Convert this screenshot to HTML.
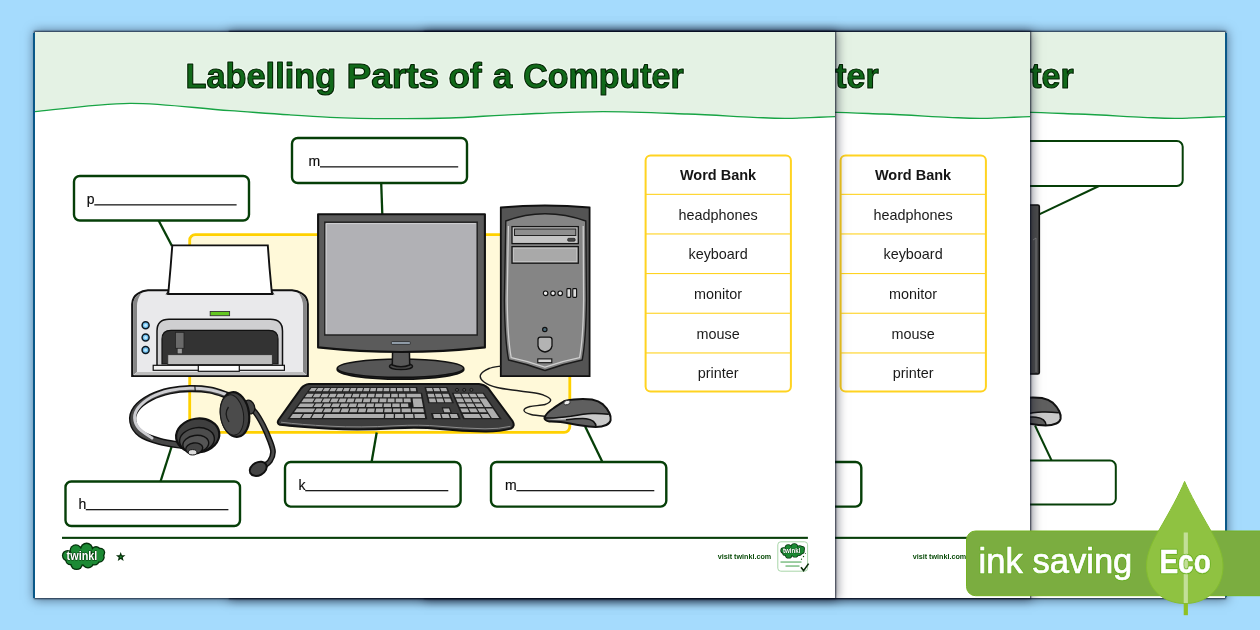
<!DOCTYPE html>
<html><head><meta charset="utf-8"><title>Labelling Parts of a Computer</title><style>
html,body{margin:0;padding:0}
body{width:1260px;height:630px;overflow:hidden;position:relative;background:#a5dbfd;font-family:"Liberation Sans",sans-serif}
.page{position:absolute;top:32px;width:800px;height:566px;background:#fff;box-shadow:0 0 1.6px .8px rgba(0,8,28,.72),0 0 10px 1.5px rgba(0,8,25,.5)}
.strip{position:absolute;background:#0a5888}
.page svg{position:absolute;left:0;top:0;display:block;will-change:transform}
svg text{font-family:"Liberation Sans",sans-serif}
.eco{position:absolute;left:966px;top:531px;width:320px;height:64px;background:#7bad40;border:1px solid #72b11f;border-radius:9px;box-sizing:border-box}
</style></head><body><div class="page" style="left:425px"><svg width="800" height="566" viewBox="35 32 800 566"><path d="M35.0,111.7 C50.8,110.3 97.5,103.5 130.0,103.3 C162.5,103.1 196.7,108.4 230.0,110.7 C263.3,113.0 302.2,116.0 330.0,117.3 C357.8,118.6 377.0,118.6 397.0,118.7 C417.0,118.8 429.5,118.7 450.0,118.0 C470.5,117.3 494.5,115.3 520.0,114.3 C545.5,113.2 575.2,111.8 603.0,111.7 C630.8,111.7 662.0,113.1 687.0,114.0 C712.0,114.9 736.3,116.6 753.0,117.3 C769.7,118.0 773.3,118.4 787.0,118.3 C800.7,118.2 827.0,117.0 835.0,116.7 L835,32 L35,32 Z" fill="#e4f2e4"/><path d="M35.0,111.7 C50.8,110.3 97.5,103.5 130.0,103.3 C162.5,103.1 196.7,108.4 230.0,110.7 C263.3,113.0 302.2,116.0 330.0,117.3 C357.8,118.6 377.0,118.6 397.0,118.7 C417.0,118.8 429.5,118.7 450.0,118.0 C470.5,117.3 494.5,115.3 520.0,114.3 C545.5,113.2 575.2,111.8 603.0,111.7 C630.8,111.7 662.0,113.1 687.0,114.0 C712.0,114.9 736.3,116.6 753.0,117.3 C769.7,118.0 773.3,118.4 787.0,118.3 C800.7,118.2 827.0,117.0 835.0,116.7" fill="none" stroke="#17a444" stroke-width="1.3"/><g font-size="35" font-weight="bold"><text x="185.6" y="87.6" textLength="150.5" lengthAdjust="spacingAndGlyphs" fill="none" stroke="#f2faf2" stroke-width="3.5" stroke-linejoin="round" opacity="0.8">Labelling</text><text x="346.4" y="87.6" textLength="92.8" lengthAdjust="spacingAndGlyphs" fill="none" stroke="#f2faf2" stroke-width="3.5" stroke-linejoin="round" opacity="0.8">Parts</text><text x="448.5" y="87.6" textLength="33.05" lengthAdjust="spacingAndGlyphs" fill="none" stroke="#f2faf2" stroke-width="3.5" stroke-linejoin="round" opacity="0.8">of</text><text x="492.7" y="87.6" textLength="19.47" lengthAdjust="spacingAndGlyphs" fill="none" stroke="#f2faf2" stroke-width="3.5" stroke-linejoin="round" opacity="0.8">a</text><text x="523.3" y="87.6" textLength="160.3" lengthAdjust="spacingAndGlyphs" fill="none" stroke="#f2faf2" stroke-width="3.5" stroke-linejoin="round" opacity="0.8">Computer</text><text x="185.6" y="87.6" textLength="150.5" lengthAdjust="spacingAndGlyphs" fill="#11691a" stroke="#022402" stroke-width="1.15" stroke-linejoin="round">Labelling</text><text x="346.4" y="87.6" textLength="92.8" lengthAdjust="spacingAndGlyphs" fill="#11691a" stroke="#022402" stroke-width="1.15" stroke-linejoin="round">Parts</text><text x="448.5" y="87.6" textLength="33.05" lengthAdjust="spacingAndGlyphs" fill="#11691a" stroke="#022402" stroke-width="1.15" stroke-linejoin="round">of</text><text x="492.7" y="87.6" textLength="19.47" lengthAdjust="spacingAndGlyphs" fill="#11691a" stroke="#022402" stroke-width="1.15" stroke-linejoin="round">a</text><text x="523.3" y="87.6" textLength="160.3" lengthAdjust="spacingAndGlyphs" fill="#11691a" stroke="#022402" stroke-width="1.15" stroke-linejoin="round">Computer</text></g><line x1="709" y1="186" x2="649.2" y2="214.3" stroke="#063f08" stroke-width="2"/><rect x="617.7" y="141" width="175.0" height="45" rx="5.8" fill="#fff" stroke="#063f08" stroke-width="2"/><line x1="645" y1="425.5" x2="661.5999999999999" y2="460.5" stroke="#063f08" stroke-width="2"/><rect x="550.8" y="460.6" width="175.0" height="44.0" rx="5.8" fill="#fff" stroke="#063f08" stroke-width="2"/><rect x="630" y="205" width="19.3" height="169" rx="1.5" fill="#4f4f4f" stroke="#111" stroke-width="1.6"/><path d="M643,240 L646,238 L646,372" fill="none" stroke="#8a8a8a" stroke-width="0.8"/><g transform="translate(60,-1.5)"><path d="M544.4,418 C546,413.5 549,411 553,408.5 C557,405.8 560,403.5 564,401.3 C568,399.8 573,399.3 578,399.2 C583,399 588,399.1 592,399.6 C597,400.6 600,402 603,404.4 C606,407 608,409.8 609.4,413 C610.6,415.5 611,418 610.6,420.2 C610,422.5 608.5,424 606.3,425 C603,426.5 599.5,427 595.7,427 C591,426.8 586,426.3 581.4,425.6 C576,424.8 571.5,423.8 567,422.9 C561,421.9 555,421.7 549.3,421.4 C546.5,421 544.6,420 544.4,418 Z" fill="#5f5f5f"/><path d="M546.5,418.8 C555,418.8 563,417.6 570.7,416.5 C578,415.3 585,414 592,413.6 C598,413.3 603,413.8 608.5,414.4 C610.3,417 611,419.5 610.3,421 C609.5,423 608,424.3 606,425 C603,426.3 599.5,426.8 596,426.8 C596,424.8 595,422.8 593.4,421.3 C591.5,419.8 589,418.9 586,418.6 C580,418.2 573,418.9 566,419.5 C559,420 552,420.1 546.5,418.8 Z" fill="#c9c9c9"/><path d="M545,418 C555,418.4 563,417.4 570.7,416.3 C578,415 585,413.8 592,413.5 C598,413.2 603,413.6 608.8,414.3" fill="none" stroke="#111" stroke-width="1.5"/><path d="M566,419.8 C573,419 580,418.3 586,418.7 C589,419 591.5,419.9 593.4,421.4 C595,422.9 596,424.8 596,426.6" fill="none" stroke="#111" stroke-width="1.5"/><path d="M544.4,418 C546,413.5 549,411 553,408.5 C557,405.8 560,403.5 564,401.3 C568,399.8 573,399.3 578,399.2 C583,399 588,399.1 592,399.6 C597,400.6 600,402 603,404.4 C606,407 608,409.8 609.4,413 C610.6,415.5 611,418 610.6,420.2 C610,422.5 608.5,424 606.3,425 C603,426.5 599.5,427 595.7,427 C591,426.8 586,426.3 581.4,425.6 C576,424.8 571.5,423.8 567,422.9 C561,421.9 555,421.7 549.3,421.4 C546.5,421 544.6,420 544.4,418 Z" fill="none" stroke="#111" stroke-width="2" stroke-linejoin="round"/><ellipse cx="567" cy="402.6" rx="3.3" ry="2.1" fill="#ececec" stroke="#222" stroke-width="0.8" transform="rotate(-18 567 402.6)"/></g></svg></div><div class="page" style="left:230px"><svg width="800" height="566" viewBox="35 32 800 566"><path d="M35.0,111.7 C50.8,110.3 97.5,103.5 130.0,103.3 C162.5,103.1 196.7,108.4 230.0,110.7 C263.3,113.0 302.2,116.0 330.0,117.3 C357.8,118.6 377.0,118.6 397.0,118.7 C417.0,118.8 429.5,118.7 450.0,118.0 C470.5,117.3 494.5,115.3 520.0,114.3 C545.5,113.2 575.2,111.8 603.0,111.7 C630.8,111.7 662.0,113.1 687.0,114.0 C712.0,114.9 736.3,116.6 753.0,117.3 C769.7,118.0 773.3,118.4 787.0,118.3 C800.7,118.2 827.0,117.0 835.0,116.7 L835,32 L35,32 Z" fill="#e4f2e4"/><path d="M35.0,111.7 C50.8,110.3 97.5,103.5 130.0,103.3 C162.5,103.1 196.7,108.4 230.0,110.7 C263.3,113.0 302.2,116.0 330.0,117.3 C357.8,118.6 377.0,118.6 397.0,118.7 C417.0,118.8 429.5,118.7 450.0,118.0 C470.5,117.3 494.5,115.3 520.0,114.3 C545.5,113.2 575.2,111.8 603.0,111.7 C630.8,111.7 662.0,113.1 687.0,114.0 C712.0,114.9 736.3,116.6 753.0,117.3 C769.7,118.0 773.3,118.4 787.0,118.3 C800.7,118.2 827.0,117.0 835.0,116.7" fill="none" stroke="#17a444" stroke-width="1.3"/><g font-size="35" font-weight="bold"><text x="185.6" y="87.6" textLength="150.5" lengthAdjust="spacingAndGlyphs" fill="none" stroke="#f2faf2" stroke-width="3.5" stroke-linejoin="round" opacity="0.8">Labelling</text><text x="346.4" y="87.6" textLength="92.8" lengthAdjust="spacingAndGlyphs" fill="none" stroke="#f2faf2" stroke-width="3.5" stroke-linejoin="round" opacity="0.8">Parts</text><text x="448.5" y="87.6" textLength="33.05" lengthAdjust="spacingAndGlyphs" fill="none" stroke="#f2faf2" stroke-width="3.5" stroke-linejoin="round" opacity="0.8">of</text><text x="492.7" y="87.6" textLength="19.47" lengthAdjust="spacingAndGlyphs" fill="none" stroke="#f2faf2" stroke-width="3.5" stroke-linejoin="round" opacity="0.8">a</text><text x="523.3" y="87.6" textLength="160.3" lengthAdjust="spacingAndGlyphs" fill="none" stroke="#f2faf2" stroke-width="3.5" stroke-linejoin="round" opacity="0.8">Computer</text><text x="185.6" y="87.6" textLength="150.5" lengthAdjust="spacingAndGlyphs" fill="#11691a" stroke="#022402" stroke-width="1.15" stroke-linejoin="round">Labelling</text><text x="346.4" y="87.6" textLength="92.8" lengthAdjust="spacingAndGlyphs" fill="#11691a" stroke="#022402" stroke-width="1.15" stroke-linejoin="round">Parts</text><text x="448.5" y="87.6" textLength="33.05" lengthAdjust="spacingAndGlyphs" fill="#11691a" stroke="#022402" stroke-width="1.15" stroke-linejoin="round">of</text><text x="492.7" y="87.6" textLength="19.47" lengthAdjust="spacingAndGlyphs" fill="#11691a" stroke="#022402" stroke-width="1.15" stroke-linejoin="round">a</text><text x="523.3" y="87.6" textLength="160.3" lengthAdjust="spacingAndGlyphs" fill="#11691a" stroke="#022402" stroke-width="1.15" stroke-linejoin="round">Computer</text></g><rect x="491" y="462" width="175.29999999999995" height="44.60000000000002" rx="5.8" fill="#fff" stroke="#063f08" stroke-width="2.4"/><rect x="645.6" y="155.6" width="145.3" height="235.9" rx="5" fill="#fff" stroke="#ffd321" stroke-width="2"/><rect x="645.6" y="193.8" width="145.3" height="1.1" fill="#ffd321"/><rect x="645.6" y="233.4" width="145.3" height="1.1" fill="#ffd321"/><rect x="645.6" y="273.0" width="145.3" height="1.1" fill="#ffd321"/><rect x="645.6" y="312.7" width="145.3" height="1.1" fill="#ffd321"/><rect x="645.6" y="352.4" width="145.3" height="1.1" fill="#ffd321"/><text x="718.05" y="179.8" text-anchor="middle" font-size="14.5" font-weight="bold" fill="#151515">Word Bank</text><text x="718.05" y="219.6" text-anchor="middle" font-size="14.4" fill="#1a1a1a">headphones</text><text x="718.05" y="258.7" text-anchor="middle" font-size="14.4" fill="#1a1a1a">keyboard</text><text x="718.05" y="298.5" text-anchor="middle" font-size="14.4" fill="#1a1a1a">monitor</text><text x="718.05" y="338.5" text-anchor="middle" font-size="14.4" fill="#1a1a1a">mouse</text><text x="718.05" y="378.3" text-anchor="middle" font-size="14.4" fill="#1a1a1a">printer</text><rect x="62" y="536.8" width="745.9" height="2.1" fill="#073f09"/><g transform="translate(62.0,542.9) scale(1.0,1.0) translate(-62,-542.9)"><circle cx="67.6" cy="555.6" r="5.7" fill="#04300a"/><circle cx="75.8" cy="550.6" r="6.3" fill="#04300a"/><circle cx="86.6" cy="549.2" r="6.6" fill="#04300a"/><circle cx="96" cy="551.6" r="5.5" fill="#04300a"/><circle cx="100.3" cy="552.6" r="4.9" fill="#04300a"/><circle cx="99.2" cy="557.2" r="5.5" fill="#04300a"/><circle cx="76.6" cy="563.6" r="6.5" fill="#04300a"/><circle cx="88" cy="562.4" r="6.1" fill="#04300a"/><circle cx="70.5" cy="560" r="5.3" fill="#04300a"/><circle cx="94.5" cy="560" r="5.5" fill="#04300a"/><circle cx="83" cy="556.5" r="9.3" fill="#04300a"/><circle cx="67.6" cy="555.6" r="4.4" fill="#1c8a34"/><circle cx="75.8" cy="550.6" r="5" fill="#1c8a34"/><circle cx="86.6" cy="549.2" r="5.3" fill="#1c8a34"/><circle cx="96" cy="551.6" r="4.2" fill="#1c8a34"/><circle cx="100.3" cy="552.6" r="3.6" fill="#1c8a34"/><circle cx="99.2" cy="557.2" r="4.2" fill="#1c8a34"/><circle cx="76.6" cy="563.6" r="5.2" fill="#1c8a34"/><circle cx="88" cy="562.4" r="4.8" fill="#1c8a34"/><circle cx="70.5" cy="560" r="4" fill="#1c8a34"/><circle cx="94.5" cy="560" r="4.2" fill="#1c8a34"/><circle cx="83" cy="556.5" r="8" fill="#1c8a34"/><text x="66.6" y="560.1" font-size="12.4" font-weight="bold" fill="#fff" stroke="#06380c" stroke-width="1.1" paint-order="stroke" stroke-linejoin="round" textLength="30.8" lengthAdjust="spacingAndGlyphs">twinkl</text></g><polygon points="120.70,551.90 121.93,555.20 125.46,555.35 122.70,557.55 123.64,560.95 120.70,559.00 117.76,560.95 118.70,557.55 115.94,555.35 119.47,555.20" fill="#06300a"/><circle cx="120.7" cy="556.9" r="1.1" fill="#1c7a2c"/><text x="771.2" y="559" text-anchor="end" font-size="7.2" font-weight="bold" fill="#0b4d0b">visit twinkl.com</text><rect x="777.8" y="541.8" width="29.8" height="29.4" rx="3" fill="#fff" stroke="#a9d6a9" stroke-width="1"/><g transform="translate(780.4,543.4) scale(0.5671296296296295,0.5555555555555556) translate(-62,-542.9)"><circle cx="67.6" cy="555.6" r="5.7" fill="#04300a"/><circle cx="75.8" cy="550.6" r="6.3" fill="#04300a"/><circle cx="86.6" cy="549.2" r="6.6" fill="#04300a"/><circle cx="96" cy="551.6" r="5.5" fill="#04300a"/><circle cx="100.3" cy="552.6" r="4.9" fill="#04300a"/><circle cx="99.2" cy="557.2" r="5.5" fill="#04300a"/><circle cx="76.6" cy="563.6" r="6.5" fill="#04300a"/><circle cx="88" cy="562.4" r="6.1" fill="#04300a"/><circle cx="70.5" cy="560" r="5.3" fill="#04300a"/><circle cx="94.5" cy="560" r="5.5" fill="#04300a"/><circle cx="83" cy="556.5" r="9.3" fill="#04300a"/><circle cx="67.6" cy="555.6" r="4.4" fill="#1c8a34"/><circle cx="75.8" cy="550.6" r="5" fill="#1c8a34"/><circle cx="86.6" cy="549.2" r="5.3" fill="#1c8a34"/><circle cx="96" cy="551.6" r="4.2" fill="#1c8a34"/><circle cx="100.3" cy="552.6" r="3.6" fill="#1c8a34"/><circle cx="99.2" cy="557.2" r="4.2" fill="#1c8a34"/><circle cx="76.6" cy="563.6" r="5.2" fill="#1c8a34"/><circle cx="88" cy="562.4" r="4.8" fill="#1c8a34"/><circle cx="70.5" cy="560" r="4" fill="#1c8a34"/><circle cx="94.5" cy="560" r="4.2" fill="#1c8a34"/><circle cx="83" cy="556.5" r="8" fill="#1c8a34"/><text x="66.6" y="560.1" font-size="12.4" font-weight="bold" fill="#fff" stroke="#06380c" stroke-width="1.1" paint-order="stroke" stroke-linejoin="round" textLength="30.8" lengthAdjust="spacingAndGlyphs">twinkl</text></g><rect x="780.5" y="561.3" width="21" height="1.5" fill="#7fbf86"/><rect x="785.5" y="565.3" width="14" height="1.5" fill="#7fbf86"/><path d="M801,567.2 L803.6,570.6 L808.6,563.6" fill="none" stroke="#0b2d0b" stroke-width="1.6"/><circle cx="803.5" cy="556.5" r="0.7" fill="#0b4d0b"/><circle cx="801.5" cy="559.2" r="0.6" fill="#0b4d0b"/><circle cx="805.3" cy="553.5" r="0.5" fill="#0b4d0b"/></svg></div><div class="page" style="left:35px"><svg width="800" height="566" viewBox="35 32 800 566"><path d="M35.0,111.7 C50.8,110.3 97.5,103.5 130.0,103.3 C162.5,103.1 196.7,108.4 230.0,110.7 C263.3,113.0 302.2,116.0 330.0,117.3 C357.8,118.6 377.0,118.6 397.0,118.7 C417.0,118.8 429.5,118.7 450.0,118.0 C470.5,117.3 494.5,115.3 520.0,114.3 C545.5,113.2 575.2,111.8 603.0,111.7 C630.8,111.7 662.0,113.1 687.0,114.0 C712.0,114.9 736.3,116.6 753.0,117.3 C769.7,118.0 773.3,118.4 787.0,118.3 C800.7,118.2 827.0,117.0 835.0,116.7 L835,32 L35,32 Z" fill="#e4f2e4"/><path d="M35.0,111.7 C50.8,110.3 97.5,103.5 130.0,103.3 C162.5,103.1 196.7,108.4 230.0,110.7 C263.3,113.0 302.2,116.0 330.0,117.3 C357.8,118.6 377.0,118.6 397.0,118.7 C417.0,118.8 429.5,118.7 450.0,118.0 C470.5,117.3 494.5,115.3 520.0,114.3 C545.5,113.2 575.2,111.8 603.0,111.7 C630.8,111.7 662.0,113.1 687.0,114.0 C712.0,114.9 736.3,116.6 753.0,117.3 C769.7,118.0 773.3,118.4 787.0,118.3 C800.7,118.2 827.0,117.0 835.0,116.7" fill="none" stroke="#17a444" stroke-width="1.3"/><g font-size="35" font-weight="bold"><text x="185.6" y="87.6" textLength="150.5" lengthAdjust="spacingAndGlyphs" fill="none" stroke="#f2faf2" stroke-width="3.5" stroke-linejoin="round" opacity="0.8">Labelling</text><text x="346.4" y="87.6" textLength="92.8" lengthAdjust="spacingAndGlyphs" fill="none" stroke="#f2faf2" stroke-width="3.5" stroke-linejoin="round" opacity="0.8">Parts</text><text x="448.5" y="87.6" textLength="33.05" lengthAdjust="spacingAndGlyphs" fill="none" stroke="#f2faf2" stroke-width="3.5" stroke-linejoin="round" opacity="0.8">of</text><text x="492.7" y="87.6" textLength="19.47" lengthAdjust="spacingAndGlyphs" fill="none" stroke="#f2faf2" stroke-width="3.5" stroke-linejoin="round" opacity="0.8">a</text><text x="523.3" y="87.6" textLength="160.3" lengthAdjust="spacingAndGlyphs" fill="none" stroke="#f2faf2" stroke-width="3.5" stroke-linejoin="round" opacity="0.8">Computer</text><text x="185.6" y="87.6" textLength="150.5" lengthAdjust="spacingAndGlyphs" fill="#11691a" stroke="#022402" stroke-width="1.15" stroke-linejoin="round">Labelling</text><text x="346.4" y="87.6" textLength="92.8" lengthAdjust="spacingAndGlyphs" fill="#11691a" stroke="#022402" stroke-width="1.15" stroke-linejoin="round">Parts</text><text x="448.5" y="87.6" textLength="33.05" lengthAdjust="spacingAndGlyphs" fill="#11691a" stroke="#022402" stroke-width="1.15" stroke-linejoin="round">of</text><text x="492.7" y="87.6" textLength="19.47" lengthAdjust="spacingAndGlyphs" fill="#11691a" stroke="#022402" stroke-width="1.15" stroke-linejoin="round">a</text><text x="523.3" y="87.6" textLength="160.3" lengthAdjust="spacingAndGlyphs" fill="#11691a" stroke="#022402" stroke-width="1.15" stroke-linejoin="round">Computer</text></g><rect x="189.7" y="234.7" width="380.1" height="197.7" rx="5.6" fill="#fff9d9" stroke="#ffd100" stroke-width="2.8"/><line x1="158.6" y1="220.5" x2="172" y2="246" stroke="#063f08" stroke-width="2.3"/><line x1="381.2" y1="183" x2="382.3" y2="214" stroke="#063f08" stroke-width="2.3"/><line x1="171.5" y1="447" x2="160.5" y2="481.5" stroke="#063f08" stroke-width="2.3"/><line x1="376.7" y1="432.5" x2="371.6" y2="462" stroke="#063f08" stroke-width="2.3"/><line x1="585.2" y1="426.5" x2="602.4" y2="462" stroke="#063f08" stroke-width="2.3"/><rect x="74" y="176" width="175" height="44.5" rx="5.8" fill="#fff" stroke="#063f08" stroke-width="2.4"/><text x="86.7" y="204.2" font-size="14" fill="#0c0c0c" stroke="#0c0c0c" stroke-width="0.15">p</text><rect x="94.3" y="204.2" width="142.3" height="1.3" fill="#1c1c1c"/><rect x="292" y="138" width="175" height="45" rx="5.8" fill="#fff" stroke="#063f08" stroke-width="2.4"/><text x="308.6" y="166.2" font-size="14" fill="#0c0c0c" stroke="#0c0c0c" stroke-width="0.15">m</text><rect x="320" y="166.2" width="138.2" height="1.3" fill="#1c1c1c"/><rect x="65.5" y="481.5" width="174.5" height="44.5" rx="5.8" fill="#fff" stroke="#063f08" stroke-width="2.4"/><text x="78.4" y="509" font-size="14" fill="#0c0c0c" stroke="#0c0c0c" stroke-width="0.15">h</text><rect x="85.8" y="509" width="142.60000000000002" height="1.3" fill="#1c1c1c"/><rect x="285" y="462" width="175.60000000000002" height="44.60000000000002" rx="5.8" fill="#fff" stroke="#063f08" stroke-width="2.4"/><text x="298.4" y="490" font-size="14" fill="#0c0c0c" stroke="#0c0c0c" stroke-width="0.15">k</text><rect x="305.2" y="490" width="143.10000000000002" height="1.3" fill="#1c1c1c"/><rect x="491" y="462" width="175.29999999999995" height="44.60000000000002" rx="5.8" fill="#fff" stroke="#063f08" stroke-width="2.4"/><text x="505" y="490" font-size="14" fill="#0c0c0c" stroke="#0c0c0c" stroke-width="0.15">m</text><rect x="516.4" y="490" width="137.89999999999998" height="1.3" fill="#1c1c1c"/><path d="M500.8,207.5 Q545,203.5 589.6,207.5 L589.6,376.2 L500.8,376.2 Z" fill="#545454" stroke="#111" stroke-width="1.8"/><path d="M505.8,221 Q545,206.5 585.8,221 L586.4,300 Q586,340 582.2,360 Q563,364 545,370.5 Q527,364 508.6,360 Q504.8,340 504.4,300 Z" fill="#858585" stroke="#1a1a1a" stroke-width="1.4"/><path d="M508.4,226 L507.2,300 Q507.6,338 511.2,357.6 Q528,361 545,367.2 Q562,361 579.6,357.6 Q583.2,338 583.6,300 L583.2,226" fill="none" stroke="#cfcfcf" stroke-width="1.3"/><rect x="512" y="226.6" width="66.3" height="17" fill="#c4c4c4" stroke="#151515" stroke-width="1.3"/><rect x="514.5" y="229" width="61.3" height="6.5" fill="#8e8e8e" stroke="#222" stroke-width="1"/><rect x="567.6" y="238.3" width="7.6" height="3" rx="1.2" fill="#444" stroke="#111" stroke-width="0.6"/><rect x="512" y="246.6" width="66.3" height="16.6" fill="#a9a9a9" stroke="#151515" stroke-width="1.3"/><rect x="513.6" y="248.2" width="63.1" height="13.4" fill="none" stroke="#c8c8c8" stroke-width="0.8"/><circle cx="545.6" cy="293.3" r="2.3" fill="#eee" stroke="#111" stroke-width="1.2"/><circle cx="553" cy="293.3" r="2.3" fill="#eee" stroke="#111" stroke-width="1.2"/><circle cx="560.2" cy="293.3" r="2.3" fill="#eee" stroke="#111" stroke-width="1.2"/><rect x="566.9" y="288.6" width="3.8" height="8.8" rx="0.8" fill="#ddd" stroke="#111" stroke-width="1.1"/><rect x="572.8" y="288.6" width="3.8" height="8.8" rx="0.8" fill="#ddd" stroke="#111" stroke-width="1.1"/><circle cx="544.8" cy="329.5" r="2.2" fill="#4b6b7a" stroke="#111" stroke-width="1.2"/><path d="M538,339.5 Q538,337.2 540.5,337.2 L549.5,337.2 Q552,337.2 552,339.5 L552,346 Q551,351 545,352 Q539,351 538,346 Z" fill="#b3b3b3" stroke="#111" stroke-width="1.3"/><rect x="537.8" y="358.9" width="14" height="3.8" fill="#d6d6d6" stroke="#111" stroke-width="1.1"/><ellipse cx="400.5" cy="369.6" rx="63.2" ry="9.6" fill="#3c3c3c" stroke="#111" stroke-width="1.8"/><ellipse cx="400.5" cy="368.2" rx="63.2" ry="9.2" fill="#565656" stroke="#111" stroke-width="1.6"/><ellipse cx="401" cy="366.3" rx="11.6" ry="3.2" fill="#4a4a4a" stroke="#111" stroke-width="1.4"/><path d="M392.6,350 L392.3,365 Q401,368.6 409.7,365 L409.4,350 Z" fill="#585858" stroke="#111" stroke-width="1.5"/><path d="M318.1,214.3 L484.9,214.3 L484.9,347.4 Q401.5,356.6 318.1,347.4 Z" fill="#5b5b5b" stroke="#111" stroke-width="2.1" stroke-linejoin="round"/><rect x="324.8" y="222.2" width="152.4" height="112.8" fill="#b1b1b5" stroke="#222" stroke-width="1.5"/><path d="M326.2,333.8 L326.2,223.6 L475.8,223.6" fill="none" stroke="#d0d0d3" stroke-width="1"/><rect x="391.4" y="341.6" width="18.9" height="2.8" rx="0.8" fill="#9aa7b4" stroke="#222" stroke-width="0.8"/><path d="M132.2,376 L132.2,304 Q132.4,297 138,293.6 Q142.5,290.6 148,290.3 L292,290.3 Q297.5,290.6 302,293.6 Q307.6,297 307.8,304 L307.8,376 Z" fill="#e9e9eb" stroke="#111" stroke-width="2.1"/><path d="M133.2,375 L133.2,304 Q133.5,298 138.5,294.6 L141.5,293 Q137,299 137,306 L137,372 Z" fill="#858585"/><path d="M306.8,375 L306.8,304 Q306.5,298 301.5,294.6 L298.5,293 Q303,299 303,306 L303,372 Z" fill="#858585"/><path d="M137.5,372 L302.5,372 L306.5,375.2 L133.5,375.2 Z" fill="#bdbdbd"/><path d="M165.5,294.6 L274.5,294.6 L272,290.5 L168,290.5 Z" fill="#333"/><path d="M172.3,245.4 L267.8,245.4 Q269.5,270 272,294 L168.2,294 Q170.5,270 172.3,245.4 Z" fill="#fff" stroke="#111" stroke-width="1.9"/><rect x="210.2" y="311.5" width="19.4" height="4.2" fill="#63c720" stroke="#333" stroke-width="0.9"/><circle cx="145.6" cy="325.2" r="3.5" fill="#6cc0f0" stroke="#0c1822" stroke-width="1.5"/><circle cx="145.6" cy="325.2" r="1.5" fill="#c4e8fb"/><circle cx="145.6" cy="337.5" r="3.5" fill="#6cc0f0" stroke="#0c1822" stroke-width="1.5"/><circle cx="145.6" cy="337.5" r="1.5" fill="#c4e8fb"/><circle cx="145.6" cy="350.1" r="3.5" fill="#6cc0f0" stroke="#0c1822" stroke-width="1.5"/><circle cx="145.6" cy="350.1" r="1.5" fill="#c4e8fb"/><path d="M157,366 L157,331 Q157,319.2 169,319.2 L270.5,319.2 Q282.5,319.2 282.5,331 L282.5,366 Z" fill="#cfcfd1" stroke="#111" stroke-width="1.5"/><path d="M162,364 L162,339 Q162,330.3 171,330.3 L269,330.3 Q278,330.3 278,339 L278,364 Z" fill="#333" stroke="#111" stroke-width="1.2"/><rect x="175.4" y="332.3" width="8.6" height="16" fill="#6a6a6a" stroke="#222" stroke-width="0.8"/><rect x="177.2" y="348.3" width="5" height="5.5" fill="#9a9a9a" stroke="#222" stroke-width="0.6"/><rect x="167.7" y="354.6" width="104.7" height="10" fill="#bcbcbc" stroke="#333" stroke-width="1"/><rect x="153.2" y="365.3" width="131.2" height="5" fill="#f4f4f4" stroke="#111" stroke-width="1.2"/><rect x="198.3" y="365.3" width="41" height="6" fill="#fff" stroke="#111" stroke-width="1.2"/><path d="M309,384 L479,384 Q484,384.3 488,388 L512.5,421 Q515.5,426.5 511,428.6 Q499,431.8 485,431.6 Q462,431 440,429 Q420,427 395,428.3 Q360,430.5 330,428.8 Q300,427 280,424.8 Q276.5,423.5 278.5,420 L301,388.5 Q304.5,384.3 309,384 Z" fill="#3d3d3d" stroke="#111" stroke-width="2"/><path d="M281,422.2 Q300,424.6 330,426.2 Q360,427.8 395,425.8 Q420,424.4 440,426.3 Q462,428.3 485,428.8 Q499,429 510.5,426.3" fill="none" stroke="#8a8a8a" stroke-width="1"/><polygon points="306.4,392.7 422.1,392.7 427.3,419.2 287.2,419.2" fill="#1e1e1e"/><polygon points="310.6,386.9 417.1,386.9 418.0,392.4 306.6,392.4" fill="#1e1e1e"/><polygon points="424.5,386.9 447.2,386.9 449.5,392.4 425.7,392.4" fill="#1e1e1e"/><polygon points="425.8,392.7 449.6,392.7 454.0,403.3 428.1,403.3" fill="#1e1e1e"/><polygon points="441.6,407.3 449.8,407.3 452.0,413.4 443.5,413.4" fill="#1e1e1e"/><polygon points="430.9,413.0 458.2,413.0 460.8,419.2 432.4,419.2" fill="#1e1e1e"/><polygon points="451.7,392.7 483.8,392.7 501.9,419.2 463.1,419.2" fill="#1e1e1e"/><polygon points="311.4,388.0 316.9,388.0 314.7,391.3 309.0,391.3" fill="#adadad"/><polygon points="318.0,388.0 323.5,388.0 321.5,391.3 315.8,391.3" fill="#adadad"/><polygon points="324.6,388.0 330.1,388.0 328.2,391.3 322.6,391.3" fill="#adadad"/><polygon points="331.2,388.0 336.7,388.0 335.0,391.3 329.4,391.3" fill="#adadad"/><polygon points="337.7,388.0 343.2,388.0 341.8,391.3 336.1,391.3" fill="#adadad"/><polygon points="344.3,388.0 349.8,388.0 348.5,391.3 342.9,391.3" fill="#adadad"/><polygon points="350.9,388.0 356.4,388.0 355.3,391.3 349.7,391.3" fill="#adadad"/><polygon points="357.5,388.0 363.0,388.0 362.1,391.3 356.4,391.3" fill="#adadad"/><polygon points="364.1,388.0 369.6,388.0 368.8,391.3 363.2,391.3" fill="#adadad"/><polygon points="370.7,388.0 376.2,388.0 375.6,391.3 370.0,391.3" fill="#adadad"/><polygon points="377.3,388.0 382.8,388.0 382.4,391.3 376.7,391.3" fill="#adadad"/><polygon points="383.9,388.0 389.4,388.0 389.1,391.3 383.5,391.3" fill="#adadad"/><polygon points="390.5,388.0 395.9,388.0 395.9,391.3 390.3,391.3" fill="#adadad"/><polygon points="397.0,388.0 402.5,388.0 402.7,391.3 397.0,391.3" fill="#adadad"/><polygon points="403.6,388.0 409.1,388.0 409.4,391.3 403.8,391.3" fill="#adadad"/><polygon points="410.2,388.0 415.7,388.0 416.2,391.3 410.6,391.3" fill="#adadad"/><polygon points="426.3,388.0 432.1,388.0 433.1,391.3 427.0,391.3" fill="#adadad"/><polygon points="433.2,388.0 439.1,388.0 440.2,391.3 434.2,391.3" fill="#adadad"/><polygon points="440.2,388.0 446.1,388.0 447.4,391.3 441.4,391.3" fill="#adadad"/><circle cx="457.0" cy="389.9" r="1.5" fill="#555" stroke="#0c0c0c" stroke-width="0.8"/><circle cx="464.2" cy="389.9" r="1.5" fill="#555" stroke="#0c0c0c" stroke-width="0.8"/><circle cx="471.4" cy="389.9" r="1.5" fill="#555" stroke="#0c0c0c" stroke-width="0.8"/><polygon points="307.3,393.8 313.8,393.8 311.5,397.2 304.8,397.2" fill="#adadad"/><polygon points="314.9,393.8 321.4,393.8 319.3,397.2 312.7,397.2" fill="#adadad"/><polygon points="322.5,393.8 329.0,393.8 327.2,397.2 320.5,397.2" fill="#adadad"/><polygon points="330.2,393.8 336.7,393.8 335.0,397.2 328.4,397.2" fill="#adadad"/><polygon points="337.8,393.8 344.3,393.8 342.9,397.2 336.2,397.2" fill="#adadad"/><polygon points="345.4,393.8 351.9,393.8 350.7,397.2 344.1,397.2" fill="#adadad"/><polygon points="353.1,393.8 359.6,393.8 358.6,397.2 351.9,397.2" fill="#adadad"/><polygon points="360.7,393.8 367.2,393.8 366.4,397.2 359.7,397.2" fill="#adadad"/><polygon points="368.4,393.8 374.8,393.8 374.2,397.2 367.6,397.2" fill="#adadad"/><polygon points="376.0,393.8 382.5,393.8 382.1,397.2 375.4,397.2" fill="#adadad"/><polygon points="383.6,393.8 390.1,393.8 389.9,397.2 383.3,397.2" fill="#adadad"/><polygon points="391.3,393.8 397.7,393.8 397.8,397.2 391.1,397.2" fill="#adadad"/><polygon points="398.9,393.8 405.4,393.8 405.6,397.2 398.9,397.2" fill="#adadad"/><polygon points="406.5,393.8 420.7,393.8 421.3,397.2 406.8,397.2" fill="#adadad"/><polygon points="303.9,398.5 314.7,398.5 312.4,402.2 301.3,402.2" fill="#adadad"/><polygon points="315.9,398.5 322.7,398.5 320.6,402.2 313.6,402.2" fill="#adadad"/><polygon points="323.9,398.5 330.7,398.5 328.8,402.2 321.8,402.2" fill="#adadad"/><polygon points="331.9,398.5 338.7,398.5 337.0,402.2 330.0,402.2" fill="#adadad"/><polygon points="339.9,398.5 346.6,398.5 345.2,402.2 338.2,402.2" fill="#adadad"/><polygon points="347.8,398.5 354.6,398.5 353.4,402.2 346.4,402.2" fill="#adadad"/><polygon points="355.8,398.5 362.6,398.5 361.6,402.2 354.6,402.2" fill="#adadad"/><polygon points="363.8,398.5 370.6,398.5 369.8,402.2 362.9,402.2" fill="#adadad"/><polygon points="371.8,398.5 378.6,398.5 378.0,402.2 371.1,402.2" fill="#adadad"/><polygon points="379.8,398.5 386.6,398.5 386.3,402.2 379.3,402.2" fill="#adadad"/><polygon points="387.8,398.5 394.5,398.5 394.5,402.2 387.5,402.2" fill="#adadad"/><polygon points="395.7,398.5 402.5,398.5 402.7,402.2 395.7,402.2" fill="#adadad"/><polygon points="403.7,398.5 410.5,398.5 410.9,402.2 403.9,402.2" fill="#adadad"/><polygon points="300.4,403.4 314.5,403.4 312.3,407.1 297.8,407.1" fill="#adadad"/><polygon points="315.8,403.4 323.0,403.4 321.0,407.1 313.5,407.1" fill="#adadad"/><polygon points="324.3,403.4 331.5,403.4 329.8,407.1 322.3,407.1" fill="#adadad"/><polygon points="332.8,403.4 340.1,403.4 338.5,407.1 331.0,407.1" fill="#adadad"/><polygon points="341.3,403.4 348.6,403.4 347.2,407.1 339.8,407.1" fill="#adadad"/><polygon points="349.8,403.4 357.1,403.4 356.0,407.1 348.5,407.1" fill="#adadad"/><polygon points="358.3,403.4 365.6,403.4 364.7,407.1 357.3,407.1" fill="#adadad"/><polygon points="366.8,403.4 374.1,403.4 373.5,407.1 366.0,407.1" fill="#adadad"/><polygon points="375.3,403.4 382.6,403.4 382.2,407.1 374.7,407.1" fill="#adadad"/><polygon points="383.9,403.4 391.1,403.4 391.0,407.1 383.5,407.1" fill="#adadad"/><polygon points="392.4,403.4 399.6,403.4 399.7,407.1 392.2,407.1" fill="#adadad"/><polygon points="400.9,403.4 408.1,403.4 408.4,407.1 401.0,407.1" fill="#adadad"/><polygon points="412.6,398.5 421.5,398.5 423.1,407.1 413.6,407.1" fill="#adadad"/><polygon points="296.9,408.4 315.2,408.4 312.9,412.3 294.1,412.3" fill="#adadad"/><polygon points="316.5,408.4 323.7,408.4 321.7,412.3 314.2,412.3" fill="#adadad"/><polygon points="325.0,408.4 332.2,408.4 330.4,412.3 323.0,412.3" fill="#adadad"/><polygon points="333.5,408.4 340.7,408.4 339.2,412.3 331.7,412.3" fill="#adadad"/><polygon points="342.0,408.4 349.2,408.4 347.9,412.3 340.5,412.3" fill="#adadad"/><polygon points="350.5,408.4 357.8,408.4 356.7,412.3 349.2,412.3" fill="#adadad"/><polygon points="359.0,408.4 366.3,408.4 365.4,412.3 358.0,412.3" fill="#adadad"/><polygon points="367.6,408.4 374.8,408.4 374.2,412.3 366.7,412.3" fill="#adadad"/><polygon points="376.1,408.4 383.3,408.4 382.9,412.3 375.5,412.3" fill="#adadad"/><polygon points="384.6,408.4 391.8,408.4 391.7,412.3 384.2,412.3" fill="#adadad"/><polygon points="393.1,408.4 400.3,408.4 400.4,412.3 393.0,412.3" fill="#adadad"/><polygon points="401.6,408.4 410.6,408.4 410.9,412.3 401.7,412.3" fill="#adadad"/><polygon points="411.8,408.4 423.3,408.4 424.0,412.3 412.2,412.3" fill="#adadad"/><polygon points="292.8,414.1 302.8,414.1 300.2,418.1 290.0,418.1" fill="#adadad"/><polygon points="304.1,414.1 312.4,414.1 310.1,418.1 301.6,418.1" fill="#adadad"/><polygon points="313.8,414.1 323.7,414.1 321.7,418.1 311.5,418.1" fill="#adadad"/><polygon points="325.0,414.1 384.1,414.1 383.7,418.1 323.1,418.1" fill="#adadad"/><polygon points="385.4,414.1 393.8,414.1 393.7,418.1 385.1,418.1" fill="#adadad"/><polygon points="395.1,414.1 403.4,414.1 403.6,418.1 395.0,418.1" fill="#adadad"/><polygon points="404.8,414.1 413.1,414.1 413.5,418.1 405.0,418.1" fill="#adadad"/><polygon points="414.4,414.1 424.4,414.1 425.1,418.1 414.9,418.1" fill="#adadad"/><polygon points="427.6,393.8 433.8,393.8 434.8,397.2 428.4,397.2" fill="#adadad"/><polygon points="434.9,393.8 441.1,393.8 442.3,397.2 435.9,397.2" fill="#adadad"/><polygon points="442.2,393.8 448.4,393.8 449.8,397.2 443.4,397.2" fill="#adadad"/><polygon points="428.8,398.5 435.1,398.5 436.2,402.2 429.6,402.2" fill="#adadad"/><polygon points="436.3,398.5 442.7,398.5 444.0,402.2 437.4,402.2" fill="#adadad"/><polygon points="443.9,398.5 450.3,398.5 451.8,402.2 445.2,402.2" fill="#adadad"/><polygon points="443.1,408.4 449.0,408.4 450.4,412.3 444.3,412.3" fill="#adadad"/><polygon points="433.1,414.1 440.1,414.1 441.2,418.1 434.0,418.1" fill="#adadad"/><polygon points="441.4,414.1 448.4,414.1 449.8,418.1 442.6,418.1" fill="#adadad"/><polygon points="449.8,414.1 456.8,414.1 458.4,418.1 451.2,418.1" fill="#adadad"/><polygon points="453.8,393.8 460.2,393.8 461.9,397.2 455.3,397.2" fill="#adadad"/><polygon points="461.4,393.8 467.8,393.8 469.6,397.2 463.1,397.2" fill="#adadad"/><polygon points="468.9,393.8 475.3,393.8 477.4,397.2 470.8,397.2" fill="#adadad"/><polygon points="476.5,393.8 482.9,393.8 485.2,397.2 478.6,397.2" fill="#adadad"/><polygon points="455.9,398.5 462.6,398.5 464.4,402.2 457.5,402.2" fill="#adadad"/><polygon points="463.8,398.5 470.5,398.5 472.5,402.2 465.6,402.2" fill="#adadad"/><polygon points="471.6,398.5 478.3,398.5 480.6,402.2 473.7,402.2" fill="#adadad"/><polygon points="458.1,403.4 465.0,403.4 466.8,407.1 459.7,407.1" fill="#adadad"/><polygon points="466.2,403.4 473.2,403.4 475.2,407.1 468.1,407.1" fill="#adadad"/><polygon points="474.4,403.4 481.4,403.4 483.6,407.1 476.5,407.1" fill="#adadad"/><polygon points="479.5,398.5 486.0,398.5 491.8,407.1 484.9,407.1" fill="#adadad"/><polygon points="460.3,408.4 467.5,408.4 469.4,412.3 462.0,412.3" fill="#adadad"/><polygon points="468.8,408.4 476.0,408.4 478.1,412.3 470.7,412.3" fill="#adadad"/><polygon points="477.2,408.4 484.4,408.4 486.8,412.3 479.4,412.3" fill="#adadad"/><polygon points="462.8,414.1 479.1,414.1 481.3,418.1 464.6,418.1" fill="#adadad"/><polygon points="480.4,414.1 487.9,414.1 490.4,418.1 482.7,418.1" fill="#adadad"/><polygon points="485.7,408.4 492.7,408.4 499.2,418.1 491.8,418.1" fill="#adadad"/><path d="M501.0,366.0 C499.0,366.4 492.4,367.0 489.0,368.5 C485.6,370.0 481.3,372.8 480.5,375.0 C479.7,377.2 481.2,379.9 484.0,382.0 C486.8,384.1 491.0,386.0 497.0,387.5 C503.0,389.0 512.8,389.9 520.0,391.0 C527.2,392.1 534.9,392.6 540.0,394.0 C545.1,395.4 549.7,397.8 550.5,399.5 C551.3,401.2 548.4,403.3 545.0,404.5 C541.6,405.7 533.5,405.5 530.0,406.5 C526.5,407.5 523.8,409.2 524.0,410.5 C524.2,411.8 527.2,413.5 531.0,414.5 C534.8,415.5 544.3,416.2 547.0,416.5" fill="none" stroke="#1c1c1c" stroke-width="1.4"/><path d="M544.4,418 C546,413.5 549,411 553,408.5 C557,405.8 560,403.5 564,401.3 C568,399.8 573,399.3 578,399.2 C583,399 588,399.1 592,399.6 C597,400.6 600,402 603,404.4 C606,407 608,409.8 609.4,413 C610.6,415.5 611,418 610.6,420.2 C610,422.5 608.5,424 606.3,425 C603,426.5 599.5,427 595.7,427 C591,426.8 586,426.3 581.4,425.6 C576,424.8 571.5,423.8 567,422.9 C561,421.9 555,421.7 549.3,421.4 C546.5,421 544.6,420 544.4,418 Z" fill="#5f5f5f"/><path d="M546.5,418.8 C555,418.8 563,417.6 570.7,416.5 C578,415.3 585,414 592,413.6 C598,413.3 603,413.8 608.5,414.4 C610.3,417 611,419.5 610.3,421 C609.5,423 608,424.3 606,425 C603,426.3 599.5,426.8 596,426.8 C596,424.8 595,422.8 593.4,421.3 C591.5,419.8 589,418.9 586,418.6 C580,418.2 573,418.9 566,419.5 C559,420 552,420.1 546.5,418.8 Z" fill="#c9c9c9"/><path d="M545,418 C555,418.4 563,417.4 570.7,416.3 C578,415 585,413.8 592,413.5 C598,413.2 603,413.6 608.8,414.3" fill="none" stroke="#111" stroke-width="1.5"/><path d="M566,419.8 C573,419 580,418.3 586,418.7 C589,419 591.5,419.9 593.4,421.4 C595,422.9 596,424.8 596,426.6" fill="none" stroke="#111" stroke-width="1.5"/><path d="M544.4,418 C546,413.5 549,411 553,408.5 C557,405.8 560,403.5 564,401.3 C568,399.8 573,399.3 578,399.2 C583,399 588,399.1 592,399.6 C597,400.6 600,402 603,404.4 C606,407 608,409.8 609.4,413 C610.6,415.5 611,418 610.6,420.2 C610,422.5 608.5,424 606.3,425 C603,426.5 599.5,427 595.7,427 C591,426.8 586,426.3 581.4,425.6 C576,424.8 571.5,423.8 567,422.9 C561,421.9 555,421.7 549.3,421.4 C546.5,421 544.6,420 544.4,418 Z" fill="none" stroke="#111" stroke-width="2" stroke-linejoin="round"/><ellipse cx="567" cy="402.6" rx="3.3" ry="2.1" fill="#ececec" stroke="#222" stroke-width="0.8" transform="rotate(-18 567 402.6)"/><path d="M181.0,445.3 C177.5,444.7 166.7,443.4 160.0,441.5 C153.3,439.6 145.5,437.3 141.0,434.0 C136.5,430.7 133.6,425.8 132.8,421.5 C132.0,417.2 133.3,412.5 136.3,408.5 C139.3,404.5 145.4,400.2 151.0,397.3 C156.6,394.4 163.5,392.2 170.0,390.8 C176.5,389.4 183.3,388.7 190.0,388.6 C196.7,388.5 203.7,388.9 210.0,390.0 C216.3,391.1 225.0,394.6 228.0,395.5" fill="none" stroke="#111" stroke-width="7.2" stroke-linecap="round"/><path d="M181.0,445.3 C177.5,444.7 166.7,443.4 160.0,441.5 C153.3,439.6 145.5,437.3 141.0,434.0 C136.5,430.7 133.6,425.8 132.8,421.5 C132.0,417.2 133.3,412.5 136.3,408.5 C139.3,404.5 145.4,400.2 151.0,397.3 C156.6,394.4 163.5,392.2 170.0,390.8 C176.5,389.4 183.3,388.7 190.0,388.6 C196.7,388.5 203.7,388.9 210.0,390.0 C216.3,391.1 225.0,394.6 228.0,395.5" fill="none" stroke="#484848" stroke-width="4.4" stroke-linecap="round"/><path d="M152.0,438.0 C149.8,436.4 141.9,431.8 139.0,428.5 C136.1,425.2 134.7,421.4 134.6,418.0 C134.5,414.6 135.5,411.3 138.3,407.8 C141.1,404.3 146.2,399.9 151.5,397.0 C156.8,394.1 163.6,391.9 170.0,390.5 C176.4,389.1 183.3,388.4 190.0,388.3 C196.7,388.2 204.2,388.8 210.0,389.7 C215.8,390.6 222.5,393.3 225.0,394.0" fill="none" stroke="#cdcdd1" stroke-width="3" stroke-linecap="round"/><line x1="194.8" y1="385.2" x2="195.3" y2="392" stroke="#111" stroke-width="1.1"/><path d="M247.0,405.0 C248.3,406.2 252.3,408.7 255.0,412.0 C257.7,415.3 260.5,420.2 263.0,425.0 C265.5,429.8 268.3,436.5 270.0,441.0 C271.7,445.5 273.0,448.7 273.0,452.0 C273.0,455.3 271.5,458.7 270.0,461.0 C268.5,463.3 265.0,465.2 264.0,466.0" fill="none" stroke="#111" stroke-width="5.8" stroke-linecap="round"/><path d="M247.0,405.0 C248.3,406.2 252.3,408.7 255.0,412.0 C257.7,415.3 260.5,420.2 263.0,425.0 C265.5,429.8 268.3,436.5 270.0,441.0 C271.7,445.5 273.0,448.7 273.0,452.0 C273.0,455.3 271.5,458.7 270.0,461.0 C268.5,463.3 265.0,465.2 264.0,466.0" fill="none" stroke="#4a4a4a" stroke-width="2.8" stroke-linecap="round"/><ellipse cx="249.5" cy="407" rx="5" ry="7" fill="#444" stroke="#111" stroke-width="1.3" transform="rotate(-20 249.5 407)"/><ellipse cx="235" cy="414.5" rx="14.1" ry="22.5" fill="#3f3f3f" stroke="#111" stroke-width="2.2" transform="rotate(-8 235 414.5)"/><ellipse cx="232" cy="415" rx="11.5" ry="20.3" fill="#4b4b4b" stroke="#1a1a1a" stroke-width="1" transform="rotate(-8 232 415)"/><path d="M228.5,407 Q223.5,414 229,422" fill="none" stroke="#1a1a1a" stroke-width="1.3"/><ellipse cx="197.7" cy="435.5" rx="21.7" ry="16.9" fill="#3f3f3f" stroke="#111" stroke-width="2.2" transform="rotate(-8 197.7 435.5)"/><ellipse cx="197" cy="440" rx="17.5" ry="12.3" fill="#4c4c4c" stroke="#111" stroke-width="1.4" transform="rotate(-8 197 440)"/><ellipse cx="195.8" cy="444" rx="13" ry="8.6" fill="#555" stroke="#111" stroke-width="1.4" transform="rotate(-8 195.8 444)"/><ellipse cx="194.2" cy="448.6" rx="8.6" ry="5.6" fill="#444" stroke="#111" stroke-width="1.4" transform="rotate(-8 194.2 448.6)"/><ellipse cx="192.6" cy="452.3" rx="4.3" ry="2.7" fill="#ddd" stroke="#151515" stroke-width="1"/><ellipse cx="258.2" cy="468.8" rx="9" ry="6.5" fill="#444" stroke="#111" stroke-width="2" transform="rotate(-28 258.2 468.8)"/><rect x="645.6" y="155.6" width="145.3" height="235.9" rx="5" fill="#fff" stroke="#ffd321" stroke-width="2"/><rect x="645.6" y="193.8" width="145.3" height="1.1" fill="#ffd321"/><rect x="645.6" y="233.4" width="145.3" height="1.1" fill="#ffd321"/><rect x="645.6" y="273.0" width="145.3" height="1.1" fill="#ffd321"/><rect x="645.6" y="312.7" width="145.3" height="1.1" fill="#ffd321"/><rect x="645.6" y="352.4" width="145.3" height="1.1" fill="#ffd321"/><text x="718.05" y="179.8" text-anchor="middle" font-size="14.5" font-weight="bold" fill="#151515">Word Bank</text><text x="718.05" y="219.6" text-anchor="middle" font-size="14.4" fill="#1a1a1a">headphones</text><text x="718.05" y="258.7" text-anchor="middle" font-size="14.4" fill="#1a1a1a">keyboard</text><text x="718.05" y="298.5" text-anchor="middle" font-size="14.4" fill="#1a1a1a">monitor</text><text x="718.05" y="338.5" text-anchor="middle" font-size="14.4" fill="#1a1a1a">mouse</text><text x="718.05" y="378.3" text-anchor="middle" font-size="14.4" fill="#1a1a1a">printer</text><rect x="62" y="536.8" width="745.9" height="2.1" fill="#073f09"/><g transform="translate(62.0,542.9) scale(1.0,1.0) translate(-62,-542.9)"><circle cx="67.6" cy="555.6" r="5.7" fill="#04300a"/><circle cx="75.8" cy="550.6" r="6.3" fill="#04300a"/><circle cx="86.6" cy="549.2" r="6.6" fill="#04300a"/><circle cx="96" cy="551.6" r="5.5" fill="#04300a"/><circle cx="100.3" cy="552.6" r="4.9" fill="#04300a"/><circle cx="99.2" cy="557.2" r="5.5" fill="#04300a"/><circle cx="76.6" cy="563.6" r="6.5" fill="#04300a"/><circle cx="88" cy="562.4" r="6.1" fill="#04300a"/><circle cx="70.5" cy="560" r="5.3" fill="#04300a"/><circle cx="94.5" cy="560" r="5.5" fill="#04300a"/><circle cx="83" cy="556.5" r="9.3" fill="#04300a"/><circle cx="67.6" cy="555.6" r="4.4" fill="#1c8a34"/><circle cx="75.8" cy="550.6" r="5" fill="#1c8a34"/><circle cx="86.6" cy="549.2" r="5.3" fill="#1c8a34"/><circle cx="96" cy="551.6" r="4.2" fill="#1c8a34"/><circle cx="100.3" cy="552.6" r="3.6" fill="#1c8a34"/><circle cx="99.2" cy="557.2" r="4.2" fill="#1c8a34"/><circle cx="76.6" cy="563.6" r="5.2" fill="#1c8a34"/><circle cx="88" cy="562.4" r="4.8" fill="#1c8a34"/><circle cx="70.5" cy="560" r="4" fill="#1c8a34"/><circle cx="94.5" cy="560" r="4.2" fill="#1c8a34"/><circle cx="83" cy="556.5" r="8" fill="#1c8a34"/><text x="66.6" y="560.1" font-size="12.4" font-weight="bold" fill="#fff" stroke="#06380c" stroke-width="1.1" paint-order="stroke" stroke-linejoin="round" textLength="30.8" lengthAdjust="spacingAndGlyphs">twinkl</text></g><polygon points="120.70,551.90 121.93,555.20 125.46,555.35 122.70,557.55 123.64,560.95 120.70,559.00 117.76,560.95 118.70,557.55 115.94,555.35 119.47,555.20" fill="#06300a"/><circle cx="120.7" cy="556.9" r="1.1" fill="#1c7a2c"/><text x="771.2" y="559" text-anchor="end" font-size="7.2" font-weight="bold" fill="#0b4d0b">visit twinkl.com</text><rect x="777.8" y="541.8" width="29.8" height="29.4" rx="3" fill="#fff" stroke="#a9d6a9" stroke-width="1"/><g transform="translate(780.4,543.4) scale(0.5671296296296295,0.5555555555555556) translate(-62,-542.9)"><circle cx="67.6" cy="555.6" r="5.7" fill="#04300a"/><circle cx="75.8" cy="550.6" r="6.3" fill="#04300a"/><circle cx="86.6" cy="549.2" r="6.6" fill="#04300a"/><circle cx="96" cy="551.6" r="5.5" fill="#04300a"/><circle cx="100.3" cy="552.6" r="4.9" fill="#04300a"/><circle cx="99.2" cy="557.2" r="5.5" fill="#04300a"/><circle cx="76.6" cy="563.6" r="6.5" fill="#04300a"/><circle cx="88" cy="562.4" r="6.1" fill="#04300a"/><circle cx="70.5" cy="560" r="5.3" fill="#04300a"/><circle cx="94.5" cy="560" r="5.5" fill="#04300a"/><circle cx="83" cy="556.5" r="9.3" fill="#04300a"/><circle cx="67.6" cy="555.6" r="4.4" fill="#1c8a34"/><circle cx="75.8" cy="550.6" r="5" fill="#1c8a34"/><circle cx="86.6" cy="549.2" r="5.3" fill="#1c8a34"/><circle cx="96" cy="551.6" r="4.2" fill="#1c8a34"/><circle cx="100.3" cy="552.6" r="3.6" fill="#1c8a34"/><circle cx="99.2" cy="557.2" r="4.2" fill="#1c8a34"/><circle cx="76.6" cy="563.6" r="5.2" fill="#1c8a34"/><circle cx="88" cy="562.4" r="4.8" fill="#1c8a34"/><circle cx="70.5" cy="560" r="4" fill="#1c8a34"/><circle cx="94.5" cy="560" r="4.2" fill="#1c8a34"/><circle cx="83" cy="556.5" r="8" fill="#1c8a34"/><text x="66.6" y="560.1" font-size="12.4" font-weight="bold" fill="#fff" stroke="#06380c" stroke-width="1.1" paint-order="stroke" stroke-linejoin="round" textLength="30.8" lengthAdjust="spacingAndGlyphs">twinkl</text></g><rect x="780.5" y="561.3" width="21" height="1.5" fill="#7fbf86"/><rect x="785.5" y="565.3" width="14" height="1.5" fill="#7fbf86"/><path d="M801,567.2 L803.6,570.6 L808.6,563.6" fill="none" stroke="#0b2d0b" stroke-width="1.6"/><circle cx="803.5" cy="556.5" r="0.7" fill="#0b4d0b"/><circle cx="801.5" cy="559.2" r="0.6" fill="#0b4d0b"/><circle cx="805.3" cy="553.5" r="0.5" fill="#0b4d0b"/></svg></div><div class="strip" style="left:33px;top:32.5px;width:2px;height:565px"></div><div class="strip" style="left:1225px;top:33px;width:2px;height:564px"></div><svg width="1260" height="630" viewBox="0 0 1260 630" style="position:absolute;left:0;top:0;will-change:transform"><rect x="966.5" y="531" width="320" height="64.7" rx="9" fill="#7bad40" stroke="#74b223" stroke-width="1"/><rect x="1183.7" y="560" width="4.2" height="55.2" fill="#8fc023"/><path d="M1184.6,481.4 C1190,494 1200,512 1211,531 C1219,545 1223.5,556 1223,568 C1222,590 1206,603.5 1185,603.5 C1164,603.5 1147.5,590 1146.5,568 C1146,556 1150.5,545 1158.5,531 C1169.5,512 1179.5,494 1184.6,481.4 Z" fill="#8fc241" stroke="#84bd30" stroke-width="1"/><rect x="1183.7" y="532.5" width="4.2" height="70.5" fill="#c3df98"/><text x="978.6" y="572.5" font-size="34.6" fill="#fff" stroke="#62ad1c" stroke-width="2.6" stroke-linejoin="round" opacity="0.75">ink saving</text><text x="978.6" y="572.5" font-size="34.6" fill="#fff" stroke="#fff" stroke-width="0.7">ink saving</text><text x="1159.4" y="573" font-size="33" font-weight="bold" fill="#fff" stroke="#62ad1c" stroke-width="2.6" stroke-linejoin="round" opacity="0.75" textLength="51.4" lengthAdjust="spacingAndGlyphs">Eco</text><text x="1159.4" y="573" font-size="33" font-weight="bold" fill="#fff" stroke="#fff" stroke-width="0.5" textLength="51.4" lengthAdjust="spacingAndGlyphs">Eco</text></svg></body></html>
